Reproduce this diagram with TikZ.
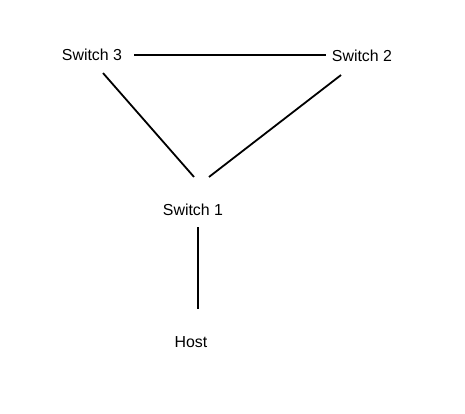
\documentclass[tikz,border=0pt]{standalone}
\usepackage{fontspec}
\setmainfont{Liberation Sans}
\begin{document}
\begin{tikzpicture}[x=1pt, y=-1pt,
	lbl/.style={inner sep=0pt, font=\fontsize{15.9}{19}\selectfont},
	link/.style={line width=1.8pt}]
	\useasboundingbox (0, 0) rectangle (465, 413);
	\node[lbl] (s3) at (92, 55) {Switch 3};
	\node[lbl] (s2) at (362, 56) {Switch 2};
	\node[lbl] (s1) at (193, 210) {Switch 1};
	\node[lbl] (host) at (191, 342) {Host};
	\draw[link] ([shift={(12, 0)}]s3.east)--([shift={(-6, -1)}]s2.west);
	\draw[link] ([shift={(11, 12)}]s3.south)--([shift={(1, -27)}]s1.north);
	\draw[link] ([shift={(-21, 13)}]s2.south)--([shift={(16, -27)}]s1.north);
	\draw[link] ([shift={(5, 11)}]s1.south)--([shift={(7, -27)}]host.north);
\end{tikzpicture}
\end{document}
